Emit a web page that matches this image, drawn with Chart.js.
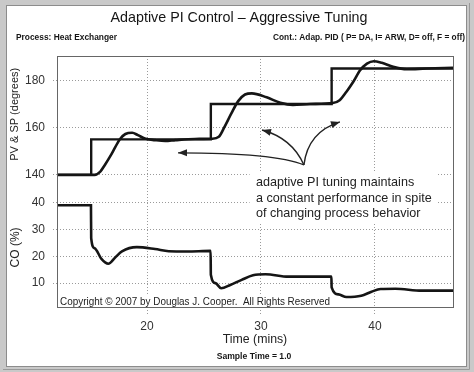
<!DOCTYPE html>
<html>
<head>
<meta charset="utf-8">
<script src="https://cdn.jsdelivr.net/npm/chart.js@4.4.1/dist/chart.umd.min.js"></script>
<style>
  html, body { margin: 0; padding: 0; background: #fff; }
  #wrap { width: 474px; height: 372px; }
</style>
</head>
<body>
<div id="wrap"><canvas id="pidChart" width="474" height="372"></canvas></div>
<script>
// tick labels
const xTicks = [20, 30, 40];
const pvTicks = [140, 160, 180];
const coTicks = [10, 20, 30, 40];

// set point (deg), steps
const spTime = [12, 15.1, 25.6, 36.2, 46.85];
const spValues = [140, 155, 170, 185, 185];

// process variable (deg)
const pvTime = [12, 15.4, 15.9, 16.3, 16.75, 17.2, 17.6, 18.1, 18.7, 19.2, 19.8, 20.7, 21.6, 22.5, 24.2, 25.7,
  26.3, 26.8, 27.4, 28.0, 28.6, 29.2, 30.5, 31.7, 32.8, 34.3, 36.3, 36.9, 37.5, 38.1, 38.7, 39.3, 39.9,
  40.6, 41.6, 42.8, 44.5, 46.85];
const pvValues = [140, 140, 141.4, 144.2, 147.7, 151.6, 155, 157.3, 157.8, 156.8, 155.4, 154.7, 154.3, 154.7, 155.2, 155.3,
  156.1, 160.3, 166, 171.2, 174, 174.5, 172.8, 170.5, 169.6, 170, 170.4, 171.6, 175.2, 179.4, 184.3, 187.1, 188.1,
  187.4, 185.7, 184.7, 185, 185.3];

// controller output (%)
const coTime = [12, 15.08, 15.1, 15.4, 16.0, 16.6, 17.2, 17.8, 19.1, 20.7, 21.9, 23.5, 25.58, 25.6, 26.0, 26.5,
  27.3, 28.3, 29.3, 30.4, 32.4, 34.5, 36.18, 36.2, 36.8, 37.5, 38.8, 39.7, 40.5, 41.8, 44.1, 46.85];
const coValues = [39, 39, 26.8, 23, 19, 17.2, 19.5, 21.8, 23.4, 22.7, 21.9, 21.8, 22, 13.1, 10, 8.1,
  9.3, 11.2, 12.9, 13.3, 12.4, 12.4, 12.4, 8.4, 5.8, 4.8, 5.3, 6.8, 7.8, 7.9, 7.2, 7.2];

// annotation (time, PV units)
const noteLines = ["adaptive PI tuning maintains", "a constant performance in spite", "of changing process behavior"];
const noteAt = [29.56, 136.6];
const noteBox = [29.0, 141.3, 45.4, 119.3];
const arrowFrom = [33.77, 144.2];
const arrowBends = [[31.23, 149.3], [32.72, 155.6], [34.12, 158.2]];
const arrowTips = [[22.72, 149.3], [30.09, 159.0], [36.93, 162.4]];

const FONT = "'Liberation Sans', Arial, sans-serif";
const INK = "#151515";

function pairs(xs, ys) {
  return xs.map((x, i) => ({ x: x, y: ys[i] }));
}

function fixedTicks(values) {
  return axis => { axis.ticks = values.map(v => ({ value: v })); };
}

function drawArrow(ctx, x0, y0, cx, cy, x1, y1) {
  ctx.beginPath();
  ctx.moveTo(x0, y0);
  ctx.quadraticCurveTo(cx, cy, x1, y1);
  ctx.stroke();
  const ang = Math.atan2(y1 - cy, x1 - cx);
  const len = 9, w = 3.5;
  ctx.beginPath();
  ctx.moveTo(x1, y1);
  ctx.lineTo(x1 - len * Math.cos(ang) + w * Math.sin(ang), y1 - len * Math.sin(ang) - w * Math.cos(ang));
  ctx.lineTo(x1 - len * Math.cos(ang) - w * Math.sin(ang), y1 - len * Math.sin(ang) + w * Math.cos(ang));
  ctx.closePath();
  ctx.fill();
}

const frame = {
  id: "frame",
  beforeDraw(chart) {
    const ctx = chart.ctx;
    ctx.save();
    ctx.fillStyle = "#c9c9c9";
    ctx.fillRect(0, 0, chart.width, chart.height);
    ctx.fillStyle = "#fff";
    ctx.fillRect(7, 6, 459, 360);
    ctx.strokeStyle = "#8c8c8c";
    ctx.lineWidth = 1;
    ctx.strokeRect(6.5, 5.5, 460, 361);
    ctx.strokeStyle = "#9a9a9a";
    ctx.beginPath();
    ctx.moveTo(469.5, 3);
    ctx.lineTo(469.5, 369.5);
    ctx.lineTo(3, 369.5);
    ctx.stroke();
    ctx.restore();
  },
  afterDraw(chart) {
    const ctx = chart.ctx;
    ctx.save();
    ctx.fillStyle = INK;
    ctx.textBaseline = "middle";
    ctx.textAlign = "center";
    ctx.font = "14.3px " + FONT;
    ctx.fillText("Adaptive PI Control \u2013 Aggressive Tuning", 239, 18);
    ctx.font = "bold 8.6px " + FONT;
    ctx.textAlign = "left";
    ctx.fillText("Process: Heat Exchanger", 16, 38, 101);
    ctx.textAlign = "right";
    ctx.fillText("Cont.: Adap. PID ( P= DA, I= ARW, D= off, F = off)", 465, 38, 192);
    ctx.textAlign = "center";
    ctx.fillText("Sample Time = 1.0", 254, 357, 76);
    ctx.restore();
  }
};

const notes = {
  id: "notes",
  beforeDatasetsDraw(chart) {
    const ctx = chart.ctx;
    const x = chart.scales.x, y = chart.scales.yPV;
    const a = chart.chartArea;
    ctx.save();
    ctx.fillStyle = "#fff";
    const bx = x.getPixelForValue(noteBox[0]), by = y.getPixelForValue(noteBox[1]);
    ctx.fillRect(bx, by, x.getPixelForValue(noteBox[2]) - bx, y.getPixelForValue(noteBox[3]) - by);
    ctx.fillStyle = "#222";
    ctx.font = "12.6px " + FONT;
    ctx.textBaseline = "middle";
    ctx.textAlign = "left";
    const tx = x.getPixelForValue(noteAt[0]), ty = y.getPixelForValue(noteAt[1]);
    noteLines.forEach((line, i) => ctx.fillText(line, tx, ty + i * 15.5));
    // copyright strip
    ctx.fillStyle = "#fff";
    ctx.fillRect(a.left + 1, a.bottom - 12, 276, 11);
    ctx.fillStyle = "#222";
    ctx.font = "10.4px " + FONT;
    ctx.fillText("Copyright \u00a9 2007 by Douglas J. Cooper.  All Rights Reserved", a.left + 3, a.bottom - 5, 270);
    ctx.restore();
  },
  afterDatasetsDraw(chart) {
    const ctx = chart.ctx;
    const x = chart.scales.x, y = chart.scales.yPV;
    const a = chart.chartArea;
    ctx.save();
    ctx.strokeStyle = "#222";
    ctx.fillStyle = "#222";
    ctx.lineWidth = 1.4;
    const x0 = x.getPixelForValue(arrowFrom[0]), y0 = y.getPixelForValue(arrowFrom[1]);
    arrowTips.forEach((tip, i) => {
      drawArrow(ctx, x0, y0,
        x.getPixelForValue(arrowBends[i][0]), y.getPixelForValue(arrowBends[i][1]),
        x.getPixelForValue(tip[0]), y.getPixelForValue(tip[1]));
    });
    ctx.strokeStyle = "#666";
    ctx.lineWidth = 1;
    ctx.strokeRect(a.left + 0.5, a.top + 0.5, a.right - a.left, a.bottom - a.top);
    ctx.restore();
  }
};

const gridStyle = {
  color: "#9a9a9a",
  lineWidth: 1,
  tickColor: "#9a9a9a",
  tickBorderDash: [1, 2],
  drawTicks: true
};

new Chart(document.getElementById("pidChart").getContext("2d"), {
  type: "line",
  data: {
    datasets: [
      {
        label: "SP",
        data: pairs(spTime, spValues),
        yAxisID: "yPV",
        stepped: true,
        borderColor: INK,
        borderWidth: 2.4,
        pointRadius: 0,
        fill: false
      },
      {
        label: "PV",
        data: pairs(pvTime, pvValues),
        yAxisID: "yPV",
        cubicInterpolationMode: "monotone",
        borderColor: INK,
        borderWidth: 2.6,
        pointRadius: 0,
        fill: false
      },
      {
        label: "CO",
        data: pairs(coTime, coValues),
        yAxisID: "yCO",
        cubicInterpolationMode: "monotone",
        borderColor: INK,
        borderWidth: 2.6,
        pointRadius: 0,
        fill: false
      }
    ]
  },
  options: {
    responsive: false,
    animation: false,
    layout: { padding: { top: 56, left: 6, right: 21, bottom: 6 } },
    plugins: { legend: { display: false }, tooltip: { enabled: false } },
    scales: {
      x: {
        type: "linear",
        min: 12.1,
        max: 46.85,
        afterBuildTicks: fixedTicks(xTicks),
        afterFit: s => { s.height = 59; },
        grid: Object.assign({ tickLength: 8 }, gridStyle),
        border: { display: false, dash: [1, 2] },
        ticks: { padding: 4, color: "#333", font: { family: FONT, size: 12 } },
        title: {
          display: true, text: "Time (mins)", color: "#222",
          font: { family: FONT, size: 12.3 }, padding: { top: 0, bottom: 18.6 }
        }
      },
      yCO: {
        type: "linear",
        position: "left",
        stack: "panel",
        stackWeight: 119.3,
        min: 1.1,
        max: 45.5,
        afterBuildTicks: fixedTicks(coTicks),
        afterFit: s => { s.width = 51; },
        grid: Object.assign({ tickLength: 4 }, gridStyle),
        border: { display: false, dash: [1, 2] },
        ticks: { padding: 8, color: "#333", font: { family: FONT, size: 12 } },
        title: {
          display: true, text: "CO (%)", color: "#222",
          font: { family: FONT, size: 12 }, padding: { top: 2, bottom: 0 }
        }
      },
      yPV: {
        type: "linear",
        position: "left",
        stack: "panel",
        stackWeight: 132,
        min: 134.5,
        max: 190.3,
        afterBuildTicks: fixedTicks(pvTicks),
        afterFit: s => { s.width = 51; },
        grid: Object.assign({ tickLength: 4 }, gridStyle),
        border: { display: false, dash: [1, 2] },
        ticks: { padding: 8, color: "#333", font: { family: FONT, size: 12 } },
        title: {
          // leading spaces lift the rotated title a little, as in the original
          display: true, text: "\u00a0\u00a0\u00a0\u00a0\u00a0PV & SP (degrees)", color: "#222",
          font: { family: FONT, size: 11 }, padding: { top: 2, bottom: 0 }
        }
      }
    }
  },
  plugins: [frame, notes]
});
</script>
</body>
</html>
